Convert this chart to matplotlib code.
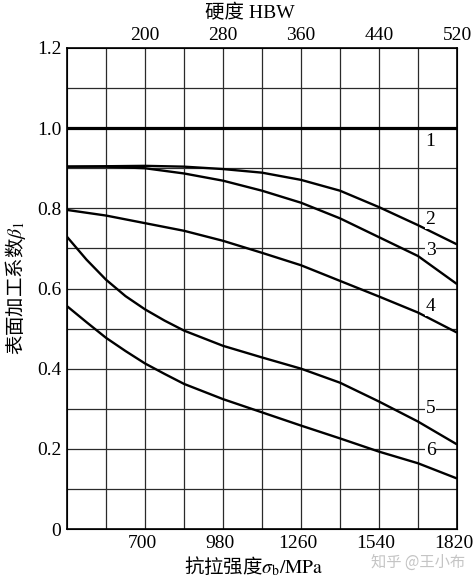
import matplotlib
matplotlib.use("Agg")
import matplotlib.pyplot as plt
import matplotlib.transforms as mtransforms

plt.rcParams['font.family'] = ['Liberation Serif', 'Noto Sans CJK SC', 'DejaVu Sans']
plt.rcParams['mathtext.fontset'] = 'stix'

# ---- data ----
strength = [420, 560, 700, 840, 980, 1120, 1260, 1400, 1540, 1680, 1820]
strength_fine = [420, 490, 560, 630, 700, 770, 840, 980, 1120, 1260, 1400, 1540, 1680, 1820]
curve1 = [1.0, 1.0, 1.0, 1.0, 1.0, 1.0, 1.0, 1.0, 1.0, 1.0, 1.0]
curve2 = [0.904, 0.905, 0.906, 0.904, 0.898, 0.889, 0.871, 0.844, 0.803, 0.758, 0.710]
curve3 = [0.904, 0.904, 0.900, 0.887, 0.869, 0.844, 0.814, 0.775, 0.728, 0.681, 0.611]
curve4 = [0.796, 0.782, 0.763, 0.744, 0.719, 0.689, 0.658, 0.619, 0.580, 0.540, 0.490]
curve5 = [0.729, 0.672, 0.622, 0.581, 0.548, 0.520, 0.495, 0.457, 0.428, 0.400, 0.365, 0.318, 0.268, 0.211]
curve6 = [0.556, 0.516, 0.477, 0.444, 0.413, 0.387, 0.362, 0.324, 0.291, 0.258, 0.226, 0.193, 0.164, 0.126]
curves = [(strength, curve1), (strength, curve2), (strength, curve3),
          (strength, curve4), (strength_fine, curve5), (strength_fine, curve6)]
curve_names = ['1', '2', '3', '4', '5', '6']
label_x = 1725
label_y = [0.966, 0.771, 0.696, 0.555, 0.300, 0.197]

bottom_ticks = [700, 980, 1260, 1540, 1820]
top_ticks = [700, 980, 1260, 1540, 1820]
hardness_labels = ['200', '280', '360', '440', '520']
y_ticks = [0, 0.2, 0.4, 0.6, 0.8, 1.0, 1.2]
y_tick_labels = ['0', '0.2', '0.4', '0.6', '0.8', '1.0', '1.2']
grid_x = [560, 700, 840, 980, 1120, 1260, 1400, 1540, 1680]
grid_y = [0.1, 0.2, 0.3, 0.4, 0.5, 0.6, 0.7, 0.8, 0.9, 1.1]

fig = plt.figure(figsize=(4.74, 5.8), dpi=100)
ax = fig.add_axes([67/474, 1-529/580, 390/474, 481/580])
ax.set_xlim(420, 1820)
ax.set_ylim(0, 1.2)

for gx in grid_x:
    ax.axvline(gx, color='#2a2a2a', lw=0.9, zorder=1)
for gy in grid_y:
    ax.axhline(gy, color='#2a2a2a', lw=0.9, zorder=1)

for i, (xs, ys) in enumerate(curves):
    lw = 2.3 if i == 0 else 1.7
    ax.plot(xs, ys, color='black', lw=lw, zorder=3, solid_capstyle='butt',
            solid_joinstyle='round')

for name, ly in zip(curve_names, label_y):
    ax.text(label_x, ly, name, fontsize=14, ha='center', va='center', zorder=4,
            bbox=dict(facecolor='white', edgecolor='none', pad=0.5))

ax.set_xticks(bottom_ticks)
ax.set_xticklabels([str(t) for t in bottom_ticks])
ax.set_yticks(y_ticks)
ax.set_yticklabels(y_tick_labels)
ax.tick_params(axis='both', length=0, labelsize=14, pad=4)
for s in ax.spines.values():
    s.set_linewidth(1.2)

# bottom tick labels sit slightly left of their gridlines in the reference
shift = mtransforms.ScaledTranslation(-3/100, 0, fig.dpi_scale_trans)
for lbl in ax.get_xticklabels():
    lbl.set_transform(lbl.get_transform() + shift)

ax2 = ax.twiny()
ax2.set_xlim(ax.get_xlim())
ax2.set_xticks(top_ticks)
ax2.set_xticklabels(hardness_labels)
ax2.tick_params(axis='x', length=0, labelsize=14, pad=3)

ax.set_xlabel(r'抗拉强度$\sigma_{\rm b}/\mathrm{MPa}$', fontsize=14,
              family='Noto Sans CJK SC')
ax.xaxis.set_label_coords(0.48, -0.079)
ax.xaxis.label.set_va('center')
ax.set_ylabel(r'表面加工系数$\beta_{\rm 1}$', fontsize=14, family='Noto Sans CJK SC')
ax.yaxis.set_label_coords(-0.133, 0.5)
ax.yaxis.label.set_va('center')
ax2.set_xlabel('硬度 HBW', fontsize=14)
ax2.xaxis.set_label_coords(0.47, 1.072)
ax2.xaxis.label.set_va('center')

fig.text(418/474, 1-562/580, '知乎 @王小布', fontsize=11, color='#c4c4c4',
         ha='center', va='center', family=['Noto Sans CJK SC', 'DejaVu Sans'])

fig.savefig('out.png', dpi=100)
